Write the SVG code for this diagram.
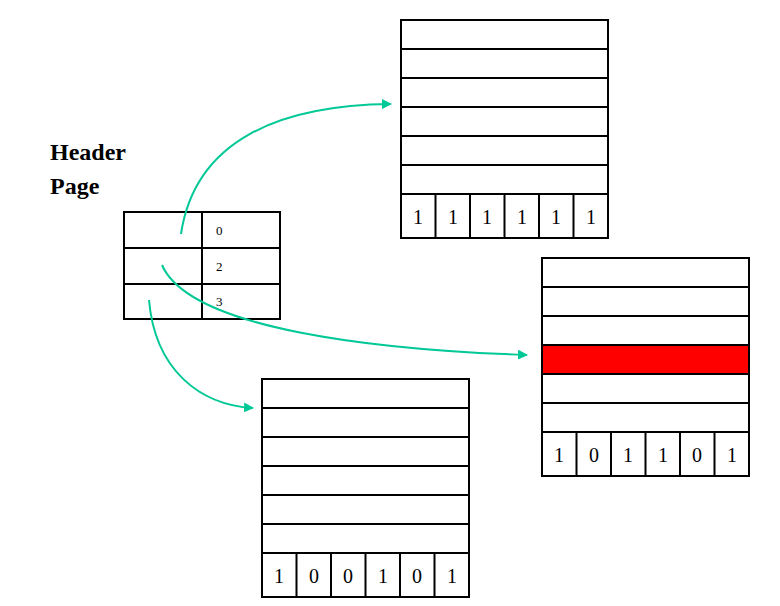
<svg xmlns="http://www.w3.org/2000/svg" width="780" height="606" viewBox="0 0 780 606">
<defs>
<style>
.ln{stroke:#000;stroke-width:2;fill:none}
.bit{font-family:"Liberation Serif",serif;font-size:20px;text-anchor:middle}
.idx{font-family:"Liberation Serif",serif;font-size:13px}
.con{stroke:#00c896;stroke-width:2;fill:none;marker-end:url(#ah)}
</style>
<marker id="ah" viewBox="0 0 10 10" refX="9" refY="5" markerWidth="5" markerHeight="5" orient="auto"><path d="M0,0L10,5L0,10z" fill="#00c896"/></marker>
</defs>
<rect width="780" height="606" fill="#fff"/>
<g id="header">
<text x="50" y="160" font-family="Liberation Serif,serif" font-size="24" font-weight="bold">Header</text>
<text x="50" y="194" font-family="Liberation Serif,serif" font-size="24" font-weight="bold">Page</text>
<rect class="ln" x="124" y="212" width="156" height="107"/>
<path class="ln" d="M202,212V319M124,248H280M124,284H280"/>
<text class="idx" x="216" y="235">0</text>
<text class="idx" x="216" y="271">2</text>
<text class="idx" x="216" y="306">3</text>
</g>
<g id="page-top">
<rect class="ln" x="401" y="20" width="207" height="218"/>
<path class="ln" d="M401,49H608M401,78H608M401,107H608M401,136H608M401,165H608M401,194H608M435.5,194V238M470,194V238M504.5,194V238M539,194V238M573.5,194V238"/>
<g class="bit"><text x="418" y="224">1</text><text x="453" y="224">1</text><text x="487" y="224">1</text><text x="522" y="224">1</text><text x="556" y="224">1</text><text x="591" y="224">1</text></g>
</g>
<g id="page-right">
<rect x="542" y="345" width="207" height="29" fill="#ff0000"/>
<rect class="ln" x="542" y="258" width="207" height="218"/>
<path class="ln" d="M542,287H749M542,316H749M542,345H749M542,374H749M542,403H749M542,432H749M576.5,432V476M611,432V476M645.5,432V476M680,432V476M714.5,432V476"/>
<g class="bit"><text x="559" y="462">1</text><text x="594" y="462">0</text><text x="628" y="462">1</text><text x="663" y="462">1</text><text x="697" y="462">0</text><text x="732" y="462">1</text></g>
</g>
<g id="page-bottom">
<rect class="ln" x="262" y="379" width="207" height="218"/>
<path class="ln" d="M262,408H469M262,437H469M262,466H469M262,495H469M262,524H469M262,553H469M296.5,553V597M331,553V597M365.5,553V597M400,553V597M434.5,553V597"/>
<g class="bit"><text x="279" y="583">1</text><text x="314" y="583">0</text><text x="348" y="583">0</text><text x="383" y="583">1</text><text x="417" y="583">0</text><text x="452" y="583">1</text></g>
</g>
<g id="connectors">
<path class="con" d="M181,234C195,140 280,105 391,104"/>
<path class="con" d="M162,265C190,330 380,350 527,355"/>
<path class="con" d="M149,300C155,370 200,405 253,408"/>
</g>
</svg>
